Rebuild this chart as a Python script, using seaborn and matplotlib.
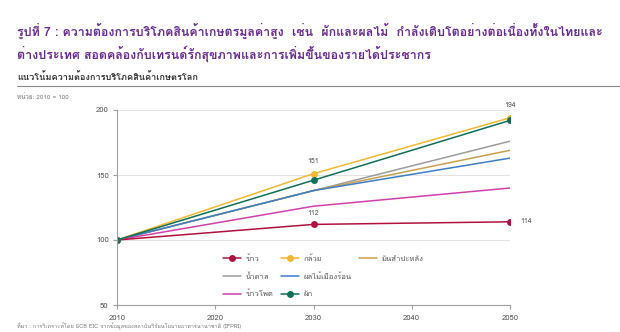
import numpy as np
import pandas as pd
import matplotlib
matplotlib.use("Agg")
import matplotlib.pyplot as plt
import seaborn as sns
from matplotlib import font_manager
from matplotlib.ft2font import FT2Font
from matplotlib.lines import Line2D

# ---------------- data ----------------
years = [2010, 2030, 2050]
rice = [100, 112, 114]
banana = [100, 151, 194]
cassava = [100, 138, 169]
sugar = [100, 138, 176]
tropical_fruit = [100, 138, 163]
maize = [100, 126, 140]
vegetable = [100, 146, 192]

labels = {
    "rice": "ข้าว",
    "banana": "กล้วย",
    "cassava": "มันสำปะหลัง",
    "sugar": "น้ำตาล",
    "tropical_fruit": "ผลไม้เมืองร้อน",
    "maize": "ข้าวโพด",
    "vegetable": "ผัก",
}
x_ticks = [2010, 2020, 2030, 2040, 2050]
y_ticks = [50, 100, 150, 200]

title_1 = "รูปที่ 7 : ความต้องการบริโภคสินค้าเกษตรมูลค่าสูง  เช่น  ผักและผลไม้  กำลังเติบโตอย่างต่อเนื่องทั้งในไทยและ"
title_2 = "ต่างประเทศ สอดคล้องกับเทรนด์รักสุขภาพและการเพิ่มขึ้นของรายได้ประชากร"
subtitle = "แนวโน้มความต้องการบริโภคสินค้าเกษตรโลก"
unit = "หน่วย: 2010 = 100"
source = "ที่มา : การวิเคราะห์โดย SCB EIC จากข้อมูลของสถาบันวิจัยนโยบายอาหารนานาชาติ (IFPRI)"

# ---------------- fonts ----------------
sns.set_theme(style="white")
thai_family = None
for f in font_manager.fontManager.ttflist:
    try:
        ft = FT2Font(f.fname)
        if 0x0E01 in ft.get_charmap():
            thai_family = f.name
            break
    except Exception:
        pass
fams = ([thai_family] if thai_family else []) + ["DejaVu Sans"]
plt.rcParams["font.family"] = fams

series = {
    "rice": rice, "banana": banana, "cassava": cassava, "sugar": sugar,
    "tropical_fruit": tropical_fruit, "maize": maize, "vegetable": vegetable,
}
colors = {
    "rice": "#B0123F", "banana": "#F4B731", "cassava": "#C9A04E",
    "sugar": "#9C9C9C", "tropical_fruit": "#3C7DC5", "maize": "#D23FAE",
    "vegetable": "#0F6F58",
}
markers = {"rice": True, "banana": True, "vegetable": True}

rows = []
for k, v in series.items():
    for y, val in zip(years, v):
        rows.append({"year": y, "value": val, "crop": k})
df = pd.DataFrame(rows)

fig = plt.figure(figsize=(6.2, 3.32), dpi=100)
ax = fig.add_axes([117/620, 1-305/332, (510-117)/620, (305-110)/332])

draw_order = ["sugar", "cassava", "tropical_fruit", "maize", "rice", "banana", "vegetable"]
for k in draw_order:
    d = df[df.crop == k]
    sns.lineplot(data=d, x="year", y="value", ax=ax, color=colors[k], linewidth=1.1,
                 marker="o" if k in markers else None, markersize=5,
                 markeredgewidth=0, legend=False)

ax.set_xlim(2010, 2050)
ax.set_ylim(50, 200)
ax.set_xticks(x_ticks)
ax.set_yticks(y_ticks)
ax.set_xlabel("")
ax.set_ylabel("")
ax.yaxis.grid(True, color="#E3E3E3", linewidth=0.8)
ax.set_axisbelow(True)
for s in ["top", "right"]:
    ax.spines[s].set_visible(False)
for s in ["left", "bottom"]:
    ax.spines[s].set_color("#A0A0A0")
    ax.spines[s].set_linewidth(0.8)
ax.tick_params(axis="both", labelsize=5.5, colors="#A0A0A0", labelcolor="#555555",
               length=3, width=0.8, pad=3)
ax.tick_params(axis="x", bottom=True, pad=4)
ax.tick_params(axis="y", left=True)

# value labels
ax.annotate(str(banana[1]), (years[1], banana[1]), xytext=(0, 6), textcoords="offset points",
            ha="center", va="bottom", fontsize=5, color="#555555")
ax.annotate(str(rice[1]), (years[1], rice[1]), xytext=(0, 5), textcoords="offset points",
            ha="center", va="bottom", fontsize=5, color="#555555")
ax.annotate(str(banana[2]), (years[2], banana[2]), xytext=(0, 6), textcoords="offset points",
            ha="center", va="bottom", fontsize=5, color="#555555")
ax.annotate(str(rice[2]), (years[2], rice[2]), xytext=(7, 0), textcoords="offset points",
            ha="left", va="center", fontsize=5, color="#555555")

# legend (column-major order to reproduce row layout)
def h(k):
    return Line2D([], [], color=colors[k], linewidth=1.1,
                  marker="o" if k in markers else None, markersize=5, markeredgewidth=0)
blank = Line2D([], [], color="none")
order = ["rice", "sugar", "maize", "banana", "tropical_fruit", "vegetable", "cassava"]
handles = [h(k) for k in order] + [blank]
texts = [labels[k] for k in order] + [""]
leg = fig.legend(handles, texts, loc="upper left", bbox_to_anchor=(223/620, 1-255/332),
                 ncol=3, frameon=False, fontsize=5.5, handlelength=2.4, handletextpad=0.6,
                 columnspacing=0.9, labelspacing=1.35, borderpad=0, borderaxespad=0)
for t in leg.get_texts():
    t.set_color("#555555")

# titles (auto-fit first line to reference width)
t1 = fig.text(17/620, 1-30/332, title_1, ha="left", va="center", fontsize=9.6,
              fontweight="bold", color="#6A2C91")
t2 = fig.text(17/620, 1-54/332, title_2, ha="left", va="center", fontsize=9.6,
              fontweight="bold", color="#6A2C91")
renderer = fig.canvas.get_renderer()
w = t1.get_window_extent(renderer).width
target = 603 - 17
if w > target:
    fs = 9.6 * target / w
    t1.set_fontsize(fs)
    t2.set_fontsize(fs)

fig.text(17/620, 1-77/332, subtitle, ha="left", va="center", fontsize=6.6, fontweight="bold",
         color="#333333")
fig.add_artist(Line2D([17/620, 1.0], [1-86/332, 1-86/332], color="#888888", linewidth=0.8))
fig.text(17/620, 1-97/332, unit, ha="left", va="center", fontsize=4.5, color="#777777")
fig.text(17/620, 1-326/332, source, ha="left", va="center", fontsize=4, color="#777777")

fig.savefig("out.png", dpi=100, facecolor="white")
